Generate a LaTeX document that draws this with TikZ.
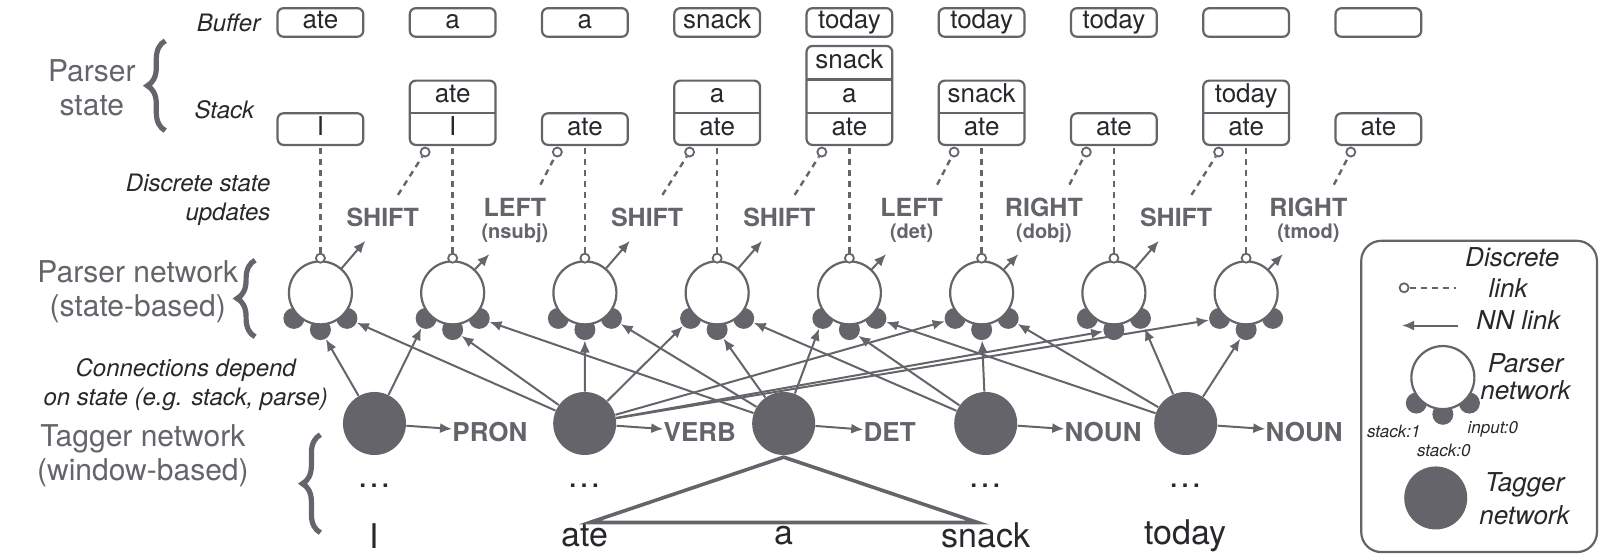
\documentclass[tikz,border=0pt]{standalone}
\usepackage{fontspec}
\setmainfont{TeX Gyre Heros}
\usetikzlibrary{decorations.pathreplacing,arrows.meta,calc}
\definecolor{gr}{RGB}{100,100,106}
\definecolor{tx}{RGB}{40,40,44}
\tikzset{
  box/.style={draw=gr, line width=1.1pt, rounded corners=3pt},
  btxt/.style={font=\fontsize{13}{15}\selectfont, text=tx, inner sep=0},
  parser/.style={circle, draw=gr, fill=white, line width=1.1pt, minimum size=31.5pt, inner sep=0},
  bump/.style={circle, fill=gr, minimum size=10.5pt, inner sep=0},
  tagger/.style={circle, fill=gr, minimum size=31.5pt, inner sep=0},
  nn/.style={draw=gr, line width=1pt, -{Latex[length=6pt,width=5pt]}},
  disc/.style={draw=gr, line width=1.2pt, dash pattern=on 3pt off 2.5pt},
  sdot/.style={circle, draw=gr, fill=white, line width=0.9pt, minimum size=4.5pt, inner sep=0},
  act/.style={font=\bfseries\fontsize{12.5}{14}\selectfont, text=gr},
  actsub/.style={font=\bfseries\fontsize{10}{11}\selectfont, text=gr},
  side/.style={font=\fontsize{15}{17}\selectfont, text=gr, align=center},
  sidei/.style={font=\itshape\fontsize{12}{14.5}\selectfont, text=tx, align=center},
  word/.style={font=\fontsize{17}{19}\selectfont, text=tx},
  postag/.style={font=\bfseries\fontsize{13}{15}\selectfont, text=gr, anchor=west, inner sep=0},
  brc/.style={draw=gr, line width=2.6pt, decorate, decoration={brace, amplitude=9pt}},
  leg/.style={font=\itshape\fontsize{13}{15}\selectfont, text=tx},
  legs/.style={font=\itshape\fontsize{8.5}{10}\selectfont, text=tx},
}
\begin{document}
\begin{tikzpicture}[x=0.51pt,y=-0.51pt]
\useasboundingbox (0,0) rectangle (1568,546);
% ---------- buffer row ----------
\foreach \k/\c/\w in {1/314/ate,2/443.6/a,3/573.2/a,4/702.8/snack,5/832.4/today,6/962/today,7/1091.6/today,8/1221.2/,9/1350.8/}{
  \draw[box] (\c-42,8) rectangle (\c+42,36);
  \node[btxt] (buf\k) at (\c,22) {\strut\w};
}
% ---------- stack boxes ----------
\foreach \k/\c in {1/314,3/573.2,7/1091.6,9/1350.8}{
  \draw[box] (\c-42,111) rectangle (\c+42,142);
}
\foreach \k/\c in {2/443.6,4/702.8,6/962,8/1221.2}{
  \draw[box] (\c-42,79) rectangle (\c+42,142);
  \draw[gr,line width=1.1pt] (\c-42,111) -- (\c+42,111);
}
\draw[box] (790.4,45) rectangle (874.4,142);
\draw[gr,line width=1.1pt] (790.4,111) -- (874.4,111);
\draw[gr,line width=1.1pt] (790.4,78) -- (874.4,78);
\node[btxt] (s1a) at (314,127) {\strut I};
\node[btxt] (s2a) at (443.6,127) {\strut I};
\node[btxt] (s2b) at (443.6,95) {\strut ate};
\node[btxt] (s3a) at (573.2,127) {\strut ate};
\node[btxt] (s4a) at (702.8,127) {\strut ate};
\node[btxt] (s4b) at (702.8,95) {\strut a};
\node[btxt] (s5a) at (832.4,127) {\strut ate};
\node[btxt] (s5b) at (832.4,95) {\strut a};
\node[btxt] (s5c) at (832.4,61) {\strut snack};
\node[btxt] (s6a) at (962,127) {\strut ate};
\node[btxt] (s6b) at (962,95) {\strut snack};
\node[btxt] (s7a) at (1091.6,127) {\strut ate};
\node[btxt] (s8a) at (1221.2,127) {\strut ate};
\node[btxt] (s8b) at (1221.2,95) {\strut today};
\node[btxt] (s9a) at (1350.8,127) {\strut ate};
% ---------- parser networks ----------
\foreach \k/\c in {1/314,2/443.6,3/573.2,4/702.8,5/832.4,6/962,7/1091.6,8/1221.2}{
  \node[bump] (p\k s1) at (\c-26,312) {};
  \node[bump] (p\k s0) at (\c,323) {};
  \node[bump] (p\k in) at (\c+26,312) {};
  \node[parser] (p\k) at (\c,287) {};
  \node[sdot] (d\k) at (\c,253) {};
  \coordinate (sb\k) at (\c,142);
  \draw[disc] (d\k) -- (sb\k);
}
% ---------- actions ----------
\foreach \k/\c/\n in {1/314/2,3/573.2/4,4/702.8/5,7/1091.6/8}{
  \node[act] (a\k) at (\c+61,213) {SHIFT};
  \coordinate (ae\k) at (\c+44,236);
  \coordinate (ds\k) at (\c+76,191);
}
\foreach \k/\c/\n/\l/\s in {2/443.6/3/LEFT/(nsubj),5/832.4/6/LEFT/(det),6/962/7/RIGHT/(dobj),8/1221.2/9/RIGHT/(tmod)}{
  \node[act] (a\k) at (\c+61,203) {\l};
  \node[actsub] (a\k s) at (\c+61,229) {\s};
  \coordinate (ae\k) at (\c+36,249);
  \coordinate (ds\k) at (\c+86,181);
}
\foreach \k/\c in {1/314,2/443.6,3/573.2,4/702.8,5/832.4,6/962,7/1091.6,8/1221.2}{
  \draw[nn] (p\k) -- (ae\k);
  \node[sdot] (ad\k) at (\c+102.6,149) {};
  \draw[disc] (ds\k) -- (ad\k);
}
% ---------- taggers ----------
\node[tagger] (t1) at (367,415) {};
\node[tagger] (t2) at (573,415) {};
\node[tagger] (t3) at (768,415) {};
\node[tagger] (t4) at (966,415) {};
\node[tagger] (t5) at (1162,415) {};
\node[postag] (g1) at (443,423) {PRON};
\node[postag] (g2) at (650,423) {VERB};
\node[postag] (g3) at (846,423) {DET};
\node[postag] (g4) at (1043,423) {NOUN};
\node[postag] (g5) at (1240,423) {NOUN};
\foreach \i in {1,...,5}{ \draw[nn] (t\i) -- (g\i); }
% tagger -> parser edges
\foreach \a/\b in {t1/p1s0,t2/p1in,t1/p2s1,t2/p2s0,t3/p2in,t2/p3s0,t3/p3in,t2/p4s1,t3/p4s0,t4/p4in,
  t3/p5s1,t4/p5s0,t5/p5in,t2/p6s1,t4/p6s0,t5/p6in,t2/p7s0,t5/p7in,t2/p8s1,t5/p8s0}{
  \draw[nn] (\a) -- (\b);
}
% ---------- words ----------
\node[word] (w1) at (367,525) {I};
\node[word] (w2) at (573,525) {ate};
\node[word] (w3) at (768,525) {a};
\node[word] (w4) at (966,525) {snack};
\node[word] (w5) at (1162,525) {today};
\node[word] (e1) at (367,476) {\dots};
\node[word] (e2) at (573,476) {\dots};
\node[word] (e4) at (966,476) {\dots};
\node[word] (e5) at (1162,476) {\dots};
\coordinate (tra) at (768,448);
\coordinate (trl) at (578,512);
\coordinate (trr) at (958,512);
\draw[gr, line width=1.8pt, line join=miter] (tra) -- (trl) -- (trr) -- cycle;
% ---------- side labels ----------
\node[sidei, anchor=east] (lbuf) at (262,22) {Buffer};
\node[sidei, anchor=east] (lstk) at (256,108) {Stack};
\node[side] (lps) at (90,86) {Parser\\state};
\draw[brc] (162,128) -- (162,40);
\node[sidei, align=right, anchor=east] (ldu) at (272,196) {Discrete state\\updates};
\node[side] (lpn) at (135,286) {Parser network\\(state-based)};
\draw[brc] (250,330) -- (250,255);
\node[sidei] (lcd) at (182,377) {Connections depend\\on state (e.g. stack, parse)};
\node[side] (ltn) at (140,447) {Tagger network\\(window-based)};
\draw[brc] (314,522) -- (314,426);
% ---------- legend ----------
\draw[box, rounded corners=10pt] (1334,236) rectangle (1565,541);
\node[leg] (lg1) at (1482,252) {Discrete};
\node[leg] (lg2) at (1478,282) {link};
\node[sdot] (lgd) at (1376,282) {};
\coordinate (lgde) at (1427,282);
\draw[disc] (lgd) -- (lgde);
\node[leg] (lg3) at (1488,314) {NN link};
\coordinate (lgn1) at (1429,319);
\coordinate (lgn2) at (1374,319);
\draw[nn] (lgn1) -- (lgn2);
\node[bump] (lgs1) at (1388,395) {};
\node[bump] (lgs0) at (1414,406) {};
\node[bump] (lgin) at (1440,395) {};
\node[parser] (lgp) at (1414,370) {};
\node[leg] (lg4) at (1495,356) {Parser};
\node[leg] (lg5) at (1495,382) {network};
\node[legs] (lg6) at (1366,423) {stack:1};
\node[legs] (lg7) at (1415,441) {stack:0};
\node[legs] (lg8) at (1463,421) {input:0};
\node[tagger] (lgt) at (1407,488) {};
\node[leg] (lg9) at (1494,475) {Tagger};
\node[leg] (lg10) at (1494,505) {network};
\end{tikzpicture}
\end{document}
